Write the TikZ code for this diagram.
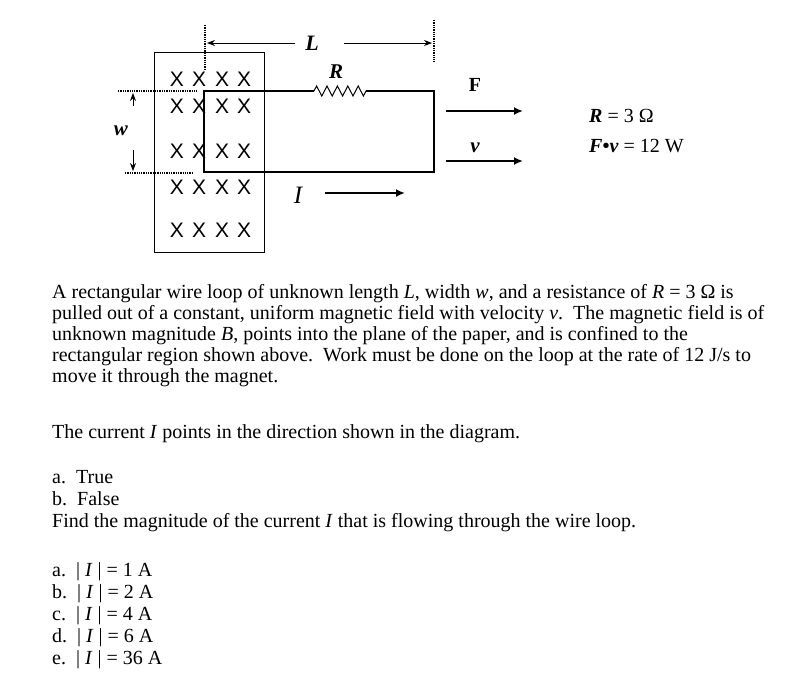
\documentclass[tikz,border=0pt]{standalone}
\usepackage{fontspec}
\setmainfont{Liberation Serif}
\newfontfamily\arialf{Liberation Sans}
\usetikzlibrary{decorations.pathmorphing,arrows.meta}
\begin{document}
\begin{tikzpicture}[x=1pt,y=-1pt,
  txt/.style={anchor=base west,inner sep=0pt,font=\fontsize{20}{20}\selectfont},
  xm/.style={inner sep=0pt,font=\arialf\fontsize{21}{21}\selectfont},
  dot/.style={densely dotted,line width=1.3pt},
  arr/.style={-{Latex[length=9pt,width=8pt]},line width=2pt},
  thin arr/.style={-{Stealth[length=8pt,width=6pt]},line width=0.8pt}]
\useasboundingbox (0,0) rectangle (786,673);
% magnet region
\node[draw,line width=0.6pt,minimum width=110pt,minimum height=200pt,inner sep=0pt,anchor=north west] (mag) at (154,52) {};
\foreach \r/\y in {1/79,2/106,3/151,4/187,5/230}{
  \foreach \c/\x in {1/177,2/199,3/222,4/244}{
    \node[xm] (x\r\c) at (\x,\y) {X};}}
% loop
\coordinate (ltl) at (204,91); \coordinate (ltr) at (434,91);
\coordinate (lbl) at (204,172); \coordinate (lbr) at (434,172);
\coordinate (rs) at (314,91); \coordinate (re) at (366,91);
\draw[line width=2.2pt] (rs) -- (ltl) -- (lbl) -- (lbr) -- (ltr) -- (re);
\draw[line width=1pt,decorate,decoration={zigzag,segment length=10.4pt,amplitude=5pt}] (rs) -- (re);
\node[inner sep=0pt,font=\bfseries\itshape\fontsize{21}{21}\selectfont] (Rl) at (336,72) {R};
% L dimension
\coordinate (d1a) at (205,25); \coordinate (d1b) at (205,70);
\coordinate (d2a) at (434,20); \coordinate (d2b) at (434,62);
\draw[dot] (d1a) -- (d1b); \draw[dot] (d2a) -- (d2b);
\node[inner sep=0pt,font=\bfseries\itshape\fontsize{22}{22}\selectfont] (Ll) at (312,43) {L};
\coordinate (La) at (207,43); \coordinate (Lb) at (432,43);
\draw[thin arr] (295,43) -- (La);
\draw[thin arr] (344,43) -- (Lb);
% w dimension
\coordinate (w1a) at (118,91); \coordinate (w1b) at (197,91);
\coordinate (w2a) at (125,173); \coordinate (w2b) at (193,173);
\draw[dot] (w1a) -- (w1b); \draw[dot] (w2a) -- (w2b);
\node[inner sep=0pt,font=\bfseries\itshape\fontsize{21}{21}\selectfont] (wl) at (121,131) {w};
\draw[thin arr] (133,106) -- (133,93);
\draw[thin arr] (133,150) -- (133,171);
% current
\node[inner sep=0pt,font=\itshape\fontsize{25}{25}\selectfont] (Il) at (298,195) {I};
\coordinate (Ia) at (325,193); \coordinate (Ib) at (405,193);
\draw[arr] (Ia) -- (Ib);
% F and v
\node[inner sep=0pt,font=\bfseries\fontsize{20}{20}\selectfont] (Fl) at (475,85) {F};
\node[inner sep=0pt,font=\bfseries\itshape\fontsize{21}{21}\selectfont] (vl) at (475,148) {v};
\coordinate (Fa) at (446,111); \coordinate (Fb) at (523,111);
\coordinate (va) at (446,161); \coordinate (vb) at (523,161);
\draw[arr] (Fa) -- (Fb); \draw[arr] (va) -- (vb);
\node[txt] (req) at (589,122) {\textbf{\textit{R}} = 3 Ω};
\node[txt] (fv) at (589,152) {\textbf{\textit{F}•\textit{v}} = 12 W};
% text
\node[txt] (t1) at (52,298) {A rectangular wire loop of unknown length \textit{L}, width \textit{w}, and a resistance of \textit{R} = 3 Ω is};
\node[txt] (t2) at (52,319) {pulled out of a constant, uniform magnetic field with velocity \textit{v}.\ \ The magnetic field is of};
\node[txt] (t3) at (52,340) {unknown magnitude \textit{B}, points into the plane of the paper, and is confined to the};
\node[txt] (t4) at (52,361) {rectangular region shown above.\ \ Work must be done on the loop at the rate of 12 J/s to};
\node[txt] (t5) at (52,382) {move it through the magnet.};
\node[txt] (t6) at (52,438) {The current \textit{I} points in the direction shown in the diagram.};
\node[txt] (t7) at (52,483) {a.\ \ True};
\node[txt] (t8) at (52,505) {b.\ \ False};
\node[txt] (t9) at (52,527) {Find the magnitude of the current \textit{I} that is flowing through the wire loop.};
\node[txt] (a1) at (52,576) {a.\ \ | \textit{I} | = 1 A};
\node[txt] (a2) at (52,598) {b.\ \ | \textit{I} | = 2 A};
\node[txt] (a3) at (52,620) {c.\ \ | \textit{I} | = 4 A};
\node[txt] (a4) at (52,642) {d.\ \ | \textit{I} | = 6 A};
\node[txt] (a5) at (52,664) {e.\ \ | \textit{I} | = 36 A};
\end{tikzpicture}
\end{document}
